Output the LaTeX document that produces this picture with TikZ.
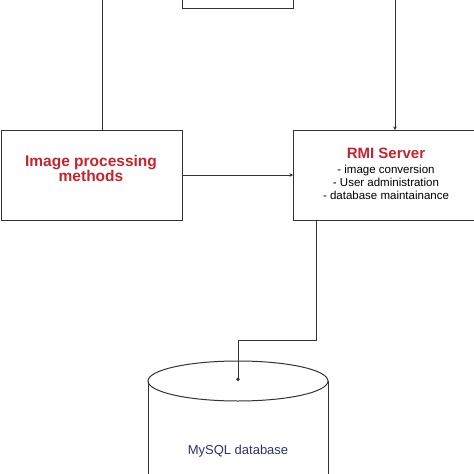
\documentclass[tikz,border=0pt]{standalone}
\usepackage{fontspec}
\setmainfont{Liberation Sans}
\usetikzlibrary{arrows.meta}
\definecolor{boxred}{RGB}{200,35,45}
\definecolor{dbblue}{RGB}{45,50,105}
\tikzset{
  box/.style={draw=black!80, line width=1pt, rectangle, align=center},
  wire/.style={draw=black!80, line width=1pt},
  link/.style={wire, -{Stealth[length=3.5pt,width=3.5pt]}},
  title/.style={font=\bfseries\fontsize{15.5}{17}\selectfont, text=boxred, align=center}
}

\begin{document}
\begin{tikzpicture}[x=1pt, y=-1pt]
    \useasboundingbox (0,0) rectangle (474,474);
    \clip (0,0) rectangle (474,474);

    % Box at the top (cut by the border)
    \node[box, minimum width=111pt, minimum height=60pt, anchor=south] (client) at (237.5,9) {};

    % Image processing methods
    \node[box, minimum width=181pt, minimum height=90pt] (methods) at (91.5,175) {};
    \node[title] (methodstxt) at (91,168) {Image processing\\[-2pt]methods};

    % RMI Server
    \node[box, minimum width=190pt, minimum height=90pt, anchor=north west] (server) at (293,130) {};
    \node[align=center, font=\fontsize{11.5}{13}\selectfont, anchor=north] (servertxt) at (386,144)
        {{\bfseries\fontsize{15}{15}\selectfont\textcolor{boxred}{RMI Server}}\\[2pt]
         - image conversion\\- User administration\\- database maintainance};

    % Lines coming in from above
    \coordinate (upleft) at (102,-5);
    \coordinate (upright) at (395,-5);
    \draw[wire] (upleft) -- (upleft |- methods.north);
    \draw[link] (upright) -- (upright |- server.north);

    % Methods to server
    \draw[link] (methods.east) -- (server.west |- methods.east);

    % MySQL database
    \coordinate (dbtop) at (238,381);
    \draw[wire] (dbtop) ellipse (90pt and 20pt);
    \draw[wire] (148,381) -- (148,490);
    \draw[wire] (328,381) -- (328,490);
    \node[font=\fontsize{13}{15}\selectfont, text=dbblue] (dblabel) at (238,451) {MySQL database};

    % Server to database
    \coordinate (srvout) at (316,220);
    \draw[wire, -{Circle[length=3.5pt]}] (srvout) -- (316,340) -- (238,340) -- (dbtop);
\end{tikzpicture}
\end{document}
